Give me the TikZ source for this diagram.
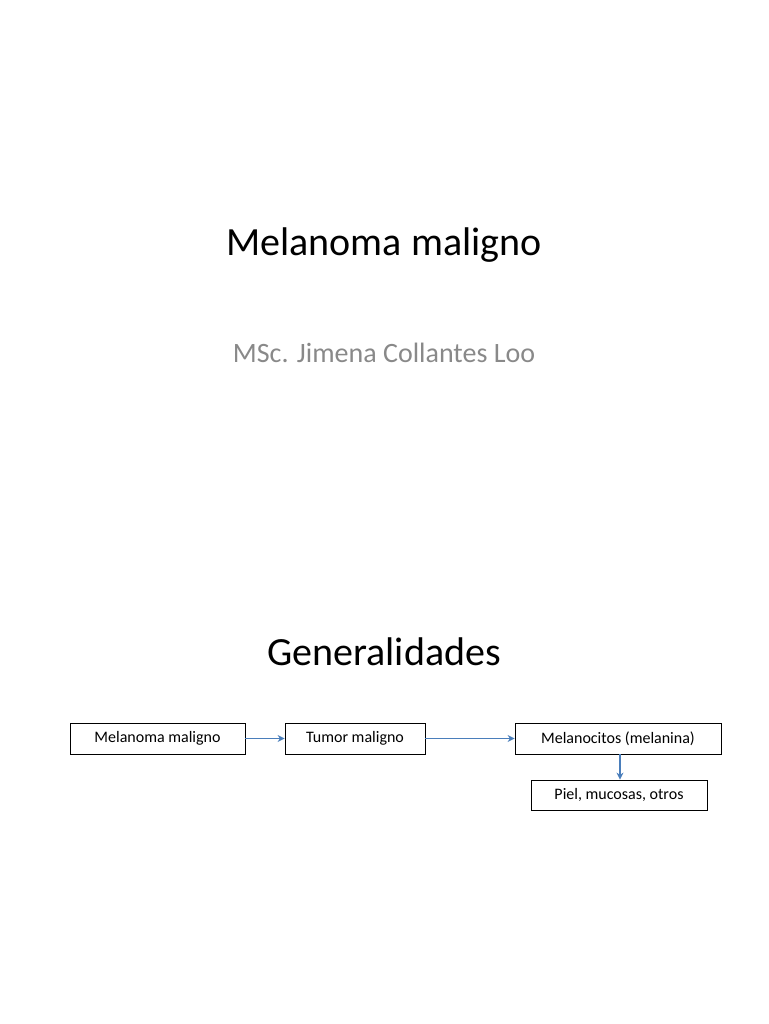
\documentclass[tikz,border=0pt]{standalone}
\usepackage{fontspec}
\setmainfont{Carlito}
\usetikzlibrary{arrows.meta}
\definecolor{arr}{RGB}{74,126,187}
\definecolor{sub}{RGB}{137,137,137}
\begin{document}
\begin{tikzpicture}[x=1pt,y=-1pt,
  box/.style={draw,line width=0.8pt,inner sep=0pt,font=\fontsize{16}{18}\selectfont},
  link/.style={draw=arr,line width=1.5pt,-{Stealth[length=7pt,width=7pt]}}]
\useasboundingbox (0,0) rectangle (768,1024);
\node (t) at (384,245) {\fontsize{40}{46}\selectfont Melanoma maligno};
\node[text=sub] (s) at (384,353) {\fontsize{28}{32}\selectfont MSc. Jimena Collantes Loo};
\node (g) at (384,652) {\fontsize{40}{46}\selectfont Generalidades};
\node[box,minimum width=175pt,minimum height=31pt] (a) at (157.5,738.5) {Melanoma maligno};
\node[box,minimum width=140pt,minimum height=31pt] (b) at (355,738.5) {Tumor maligno};
\node[box,minimum width=206pt,minimum height=31pt] (c) at (618,738.5) {Melanocitos (melanina)};
\node[box,minimum width=176pt,minimum height=30pt] (d) at (619,795) {Piel, mucosas, otros};
\draw[link] (a) -- (b);
\draw[link] (b) -- (c);
\draw[link] (c.south -| 620,0) -- (d.north -| 620,0);
\end{tikzpicture}
\end{document}
